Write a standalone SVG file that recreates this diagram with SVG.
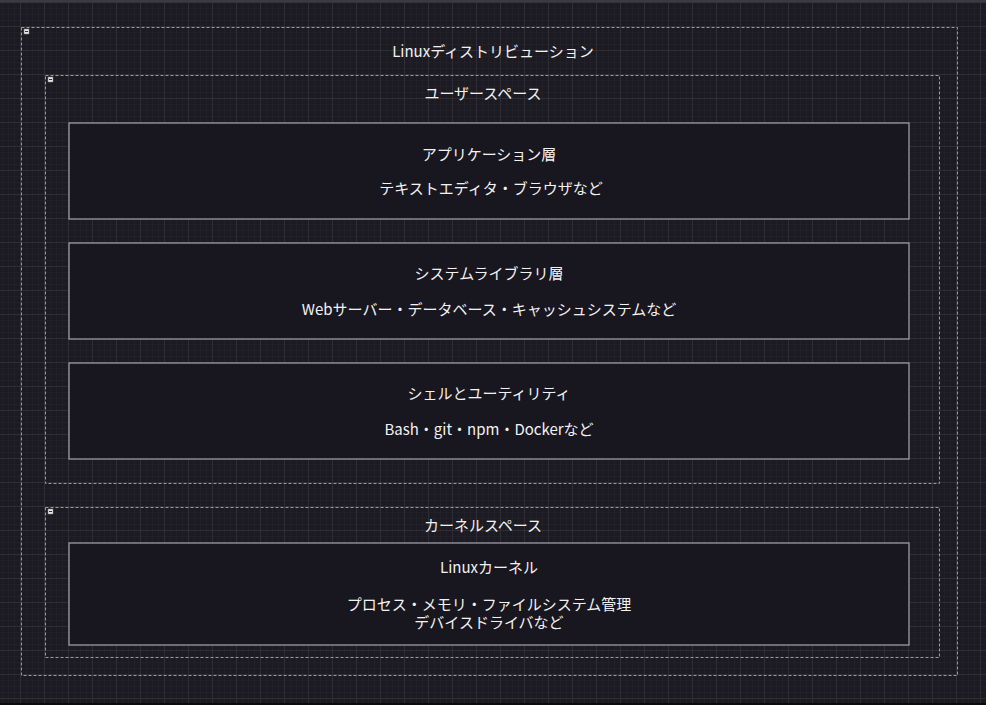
<svg xmlns="http://www.w3.org/2000/svg" width="986" height="705" viewBox="0 0 986 705">
<defs>
<pattern id="minor" x="2" y="2" width="6" height="6" patternUnits="userSpaceOnUse">
<path d="M0 0H6M0 0V6" stroke="#25242b" stroke-width="1" fill="none"/>
</pattern>
<pattern id="major" x="20" y="2" width="24" height="24" patternUnits="userSpaceOnUse">
<path d="M0 0.5H24M0.5 0V24" stroke="#2f2e36" stroke-width="1" fill="none"/>
</pattern>
</defs>
<style>
.grp{fill:none;stroke:#9a9a9e;stroke-width:1;stroke-dasharray:3 2}
.node{fill:#18161f;stroke:#9c9ca0;stroke-width:1.3}
.tog{fill:#e6e6e6;stroke:#888;stroke-width:0.5}
.togl{stroke:#333;stroke-width:1}
text{font-family:"Noto Sans CJK JP","Noto Sans",sans-serif;font-size:15px;fill:#f2f2f2;text-anchor:middle;dominant-baseline:central}
</style>
<rect width="986" height="705" fill="#1c1b22"/>
<rect width="986" height="705" fill="url(#minor)"/>
<rect width="986" height="705" fill="url(#major)"/>
<rect width="986" height="2.5" fill="#3a3a40"/>
<rect y="703" width="986" height="2" fill="#0c0c0e"/>

<g id="linux-distribution">
<rect class="grp" x="21.5" y="27.5" width="936" height="648"/>
<rect class="tog" x="24" y="29" width="5" height="5"/><path class="togl" d="M25 31.5H28"/>
<text x="493" y="50.5">Linuxディストリビューション</text>
</g>

<g id="user-space">
<rect class="grp" x="45.5" y="75.5" width="894" height="408"/>
<rect class="tog" x="48" y="77" width="5" height="5"/><path class="togl" d="M49 79.5H52"/>
<text x="483" y="92.5">ユーザースペース</text>
</g>

<g id="application-layer">
<rect class="node" x="69" y="123" width="840" height="96"/>
<text x="489" y="153.5">アプリケーション層</text>
<text x="491" y="187.5">テキストエディタ・ブラウザなど</text>
</g>

<g id="system-library-layer">
<rect class="node" x="69" y="243" width="840" height="96"/>
<text x="489" y="272.5">システムライブラリ層</text>
<text x="489" y="308.5">Webサーバー・データベース・キャッシュシステムなど</text>
</g>

<g id="shell-utilities">
<rect class="node" x="69" y="363" width="840" height="96"/>
<text x="489" y="392.5">シェルとユーティリティ</text>
<text x="489" y="428.5">Bash・git・npm・Dockerなど</text>
</g>

<g id="kernel-space">
<rect class="grp" x="45.5" y="507.5" width="894" height="150"/>
<rect class="tog" x="48" y="509" width="5" height="5"/><path class="togl" d="M49 511.5H52"/>
<text x="483" y="524.5">カーネルスペース</text>
</g>

<g id="linux-kernel">
<rect class="node" x="69" y="543" width="840" height="102"/>
<text x="489" y="566.5">Linuxカーネル</text>
<text x="489" y="603"><tspan x="489" y="603">プロセス・メモリ・ファイルシステム管理</tspan><tspan x="489" y="620.5">デバイスドライバなど</tspan></text>
</g>

<g id="connectors"></g>
</svg>
